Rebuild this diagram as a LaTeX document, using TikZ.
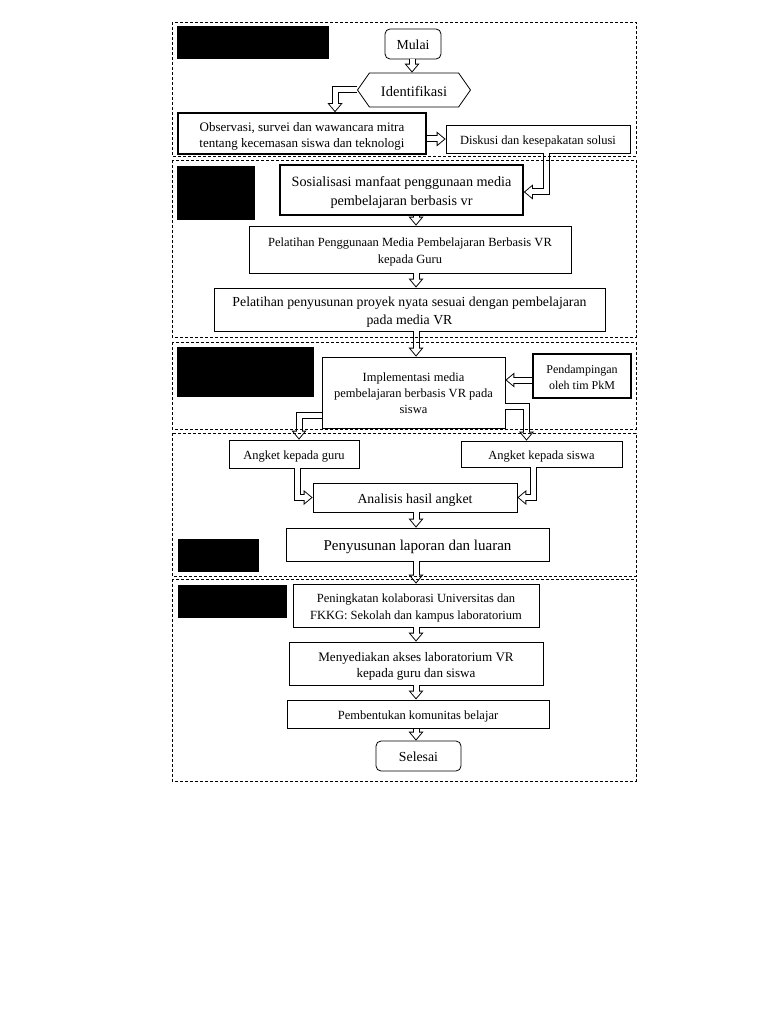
\documentclass[tikz,border=0pt]{standalone}
\usepackage{fontspec}
\setmainfont{Liberation Serif}
\usepackage{tikz}
\usetikzlibrary{arrows.meta}
\usetikzlibrary{calc}
\usetikzlibrary{shapes.symbols}

\newcommand{\fs}[2]{\fontsize{#1}{#2}\selectfont}

\begin{document}
\begin{tikzpicture}[x=1pt,y=-1pt,
  lines/.style={execute at begin node={\rule[-.24em]{0pt}{\dimexpr#1\baselineskip+1.34em\relax}}},
  box/.style={draw,line width=.8pt,inner sep=0pt,align=center},
  boxthick/.style={box,line width=1.6pt},
  ends/.style={box,rounded corners=5pt},
  flow/.style={white,line width=5pt,shorten >=1.5pt,
    -{Triangle[length=6.5pt,width=11pt,line width=0pt,white,fill=white]},
    preaction={draw=black,line width=7pt,shorten >=0pt,
      -{Triangle[length=9pt,width=15pt,line width=0pt,black,fill=black]}}},
  section/.style={draw,line width=.7pt,dash pattern=on 3pt off 2pt}]
  \useasboundingbox (0,0) rectangle (768,1024);

  \node[ends,lines=0,minimum width=56pt,minimum height=30pt,font=\fs{13.8}{16}] (mulai) at (413,44) {Mulai};
  \node[box,lines=0,signal,signal to=west and east,signal pointer angle=110,minimum width=113pt,minimum height=34pt,font=\fs{14.5}{16}] (ident) at (414,90) {Identifikasi};
  \node[boxthick,lines=1,minimum width=248pt,minimum height=41pt,font=\fs{13}{16}] (obs) at (302,133.5) {Observasi, survei dan wawancara mitra\\tentang kecemasan siswa dan teknologi};
  \node[box,lines=0,minimum width=184pt,minimum height=28pt,font=\fs{12.5}{15}] (disk) at (538,139) {Diskusi dan kesepakatan solusi};
  \node[boxthick,lines=1,minimum width=243pt,minimum height=50pt,font=\fs{14.2}{19}] (sos) at (401.5,190) {Sosialisasi manfaat penggunaan media\\pembelajaran berbasis vr};
  \node[box,lines=1,minimum width=322pt,minimum height=47pt,font=\fs{12.5}{17}] (pel1) at (410,249.5) {Pelatihan Penggunaan Media Pembelajaran Berbasis VR\\kepada Guru};
  \node[box,lines=1,line width=.9pt,minimum width=391pt,minimum height=43pt,font=\fs{13.8}{18}] (pel2) at (409.5,309.5) {Pelatihan penyusunan proyek nyata sesuai dengan pembelajaran\\pada media VR};
  \node[box,lines=2,minimum width=183pt,minimum height=71pt,font=\fs{12.5}{16}] (impl) at (413.5,392.5) {Implementasi media\\pembelajaran berbasis VR pada\\siswa};
  \node[boxthick,lines=1,minimum width=98pt,minimum height=44pt,font=\fs{12}{16}] (pend) at (582,376) {Pendampingan\\oleh tim PkM};
  \node[box,lines=0,minimum width=130pt,minimum height=28pt,font=\fs{12.5}{15}] (guru) at (294,454) {Angket kepada guru};
  \node[box,lines=0,minimum width=161pt,minimum height=26pt,font=\fs{12.5}{15}] (siswa) at (541.5,454) {Angket kepada siswa};
  \node[box,lines=0,minimum width=204pt,minimum height=29pt,font=\fs{13.8}{16}] (anal) at (415,497.5) {Analisis hasil angket};
  \node[box,lines=0,minimum width=263pt,minimum height=33pt,font=\fs{15}{18}] (lapor) at (417.5,544.5) {Penyusunan laporan dan luaran};
  \node[box,lines=1,minimum width=246pt,minimum height=43pt,font=\fs{12.5}{17}] (kolab) at (416,605.5) {Peningkatan kolaborasi Universitas dan\\FKKG: Sekolah dan kampus laboratorium};
  \node[box,lines=1,minimum width=254pt,minimum height=43pt,font=\fs{13.1}{16}] (akses) at (416,663.5) {Menyediakan akses laboratorium VR\\kepada guru dan siswa};
  \node[box,lines=0,line width=1pt,minimum width=262pt,minimum height=28pt,font=\fs{12.5}{15}] (komun) at (418,714) {Pembentukan komunitas belajar};
  \node[ends,lines=0,minimum width=85pt,minimum height=30pt,font=\fs{13.8}{16}] (selesai) at (418.5,756) {Selesai};

  \coordinate (spine) at (416,0);
  \draw[flow] (mulai.south -| 412,0) -- (ident.north -| 412,0);
  \draw[flow] (ident.west) -| ([xshift=33pt]obs.north);
  \draw[flow] (obs.east |- disk.west) -- (disk.west);
  \draw[flow] ([xshift=8pt]disk.south) |- ([yshift=-2pt]sos.east);
  \draw[flow] (sos.south -| spine) -- (pel1.north -| spine);
  \draw[flow] (pel1.south -| spine) -- (pel2.north -| spine);
  \draw[flow] (pel2.south -| spine) -- (impl.north -| spine);
  \draw[flow] ([yshift=-4pt]pend.west) -- ([yshift=-4pt]pend.west -| impl.east);
  \draw[flow] ([yshift=-23pt]impl.west) -| ([xshift=5pt]guru.north);
  \draw[flow] ([yshift=-14pt]impl.east) -| ([xshift=-15pt]siswa.north);
  \draw[flow] ([xshift=3pt]guru.south) |- (anal.west);
  \draw[flow] ([xshift=-8pt]siswa.south) |- (anal.east);
  \draw[flow] (anal.south -| spine) -- (lapor.north -| spine);
  \draw[flow] (lapor.south -| spine) -- (kolab.north -| spine);
  \draw[flow] (kolab.south -| spine) -- (akses.north -| spine);
  \draw[flow] (akses.south -| spine) -- (komun.north -| spine);
  \draw[flow] (komun.south -| spine) -- (selesai.north -| spine);

  \fill (177,26) rectangle (329,59);
  \fill (177,166) rectangle (255,220);
  \fill (177,347) rectangle (314,397);
  \fill (178,539) rectangle (259,572);
  \fill (178,585) rectangle (287,618);

  \draw[section] (172,22) rectangle (636,156);
  \draw[section] (172,160) rectangle (636,337);
  \draw[section] (172,342) rectangle (636,429);
  \draw[section] (172,433) rectangle (636,576);
  \draw[section] (172,579) rectangle (636,781);
\end{tikzpicture}
\end{document}
